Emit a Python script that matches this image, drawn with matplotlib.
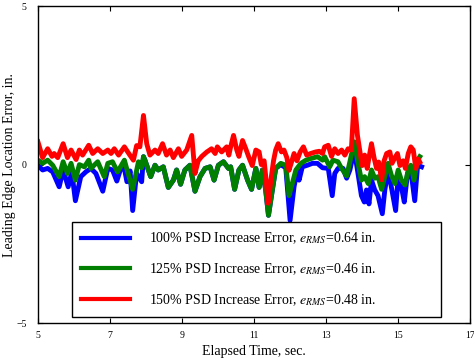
import matplotlib
matplotlib.use("Agg")
import matplotlib.pyplot as plt

plt.rcParams['font.family'] = ['Liberation Serif', 'DejaVu Serif']
plt.rcParams['mathtext.fontset'] = 'stix'

# ---- data ----
t_red = [5.00, 5.13, 5.27, 5.39, 5.45, 5.55, 5.70, 5.82, 5.92, 6.06, 6.15, 6.24, 6.41, 6.52, 6.66,
         6.80, 6.94, 7.03, 7.12, 7.24, 7.40, 7.54, 7.65, 7.74, 7.83, 7.93, 8.02, 8.11, 8.25, 8.34,
         8.46, 8.57, 8.67, 8.76, 8.90, 8.99, 9.13, 9.27, 9.36, 9.45, 9.55, 9.69, 9.82, 9.92, 9.98,
         10.10, 10.24, 10.30, 10.35, 10.43, 10.52, 10.58, 10.68, 10.77, 10.86, 10.95, 11.05, 11.14,
         11.20, 11.28, 11.32, 11.39, 11.46, 11.54, 11.60, 11.67, 11.76, 11.83, 11.91, 11.97, 12.04,
         12.11, 12.19, 12.28, 12.37, 12.46, 12.57, 12.71, 12.81, 12.90, 12.96, 13.06, 13.15, 13.24,
         13.33, 13.43, 13.52, 13.61, 13.70, 13.78, 13.87, 13.94, 14.00, 14.07, 14.14, 14.19, 14.26,
         14.33, 14.40, 14.46, 14.54, 14.61, 14.68, 14.77, 14.83, 14.91, 14.98, 15.05, 15.14, 15.20,
         15.28, 15.35, 15.42, 15.49, 15.56, 15.60]
y_red = [0.72, 0.22, 0.50, 0.26, 0.35, 0.22, 0.66, 0.22, 0.46, 0.16, 0.46, 0.30, 0.61, 0.35, 0.50,
         0.35, 0.46, 0.35, 0.50, 0.30, 0.56, 0.32, 0.14, 0.60, 0.56, 1.55, 0.66, 0.30, 0.46, 0.35,
         0.66, 0.30, 0.46, 0.22, 0.50, 0.26, 0.46, 0.92, -0.28, 0.12, 0.26, 0.40, 0.50, 0.35, 0.56,
         0.40, 0.56, 0.30, 0.56, 0.92, 0.46, 0.26, 0.76, 0.50, 0.22, -0.03, 0.46, 0.40, 0.00, 0.12,
         -0.33, -1.22, -0.55, 0.12, 0.46, 0.66, 0.40, 0.46, 0.22, -0.18, 0.08, 0.35, 0.12, 0.40,
         0.56, 0.30, 0.35, 0.40, 0.42, 0.35, 0.56, 0.61, 0.26, 0.50, 0.35, 0.46, 0.30, 0.50, 0.46,
         2.08, 0.92, 0.40, -0.03, 0.30, -0.12, 0.22, 0.66, 0.22, -0.12, 0.08, -0.48, 0.12, 0.35,
         0.40, 0.04, 0.22, 0.35, -0.03, 0.12, -0.12, 0.35, 0.56, 0.46, -0.12, 0.17, 0.08]

t_green = [5.00, 5.13, 5.27, 5.41, 5.59, 5.70, 5.82, 5.92, 6.04, 6.15, 6.29, 6.41, 6.47, 6.66, 6.84,
           6.94, 7.07, 7.21, 7.40, 7.49, 7.63, 7.79, 7.88, 7.93, 7.97, 8.13, 8.25, 8.34, 8.48, 8.62,
           8.76, 8.85, 8.96, 9.08, 9.22, 9.36, 9.50, 9.64, 9.78, 9.89, 10.01, 10.15, 10.29, 10.35,
           10.46, 10.58, 10.68, 10.82, 10.93, 11.05, 11.14, 11.23, 11.32, 11.40, 11.51, 11.60, 11.74,
           11.88, 11.97, 12.06, 12.16, 12.30, 12.44, 12.57, 12.76, 12.90, 12.96, 13.10, 13.19, 13.33,
           13.43, 13.57, 13.66, 13.78, 13.87, 13.98, 14.07, 14.17, 14.26, 14.35, 14.44, 14.54, 14.63,
           14.72, 14.81, 14.91, 15.00, 15.09, 15.19, 15.28, 15.35, 15.44, 15.54, 15.60]
y_green = [0.14, 0.04, 0.14, -0.02, -0.38, 0.09, -0.28, 0.04, -0.49, 0.00, -0.07, 0.14, -0.12, 0.09,
           -0.38, 0.04, 0.09, -0.23, 0.14, -0.23, -0.78, 0.09, -0.10, 0.25, 0.14, -0.38, -0.02, -0.17,
           -0.07, -0.72, -0.49, -0.17, -0.62, -0.17, -0.02, -0.84, -0.38, -0.12, -0.07, -0.49, -0.02,
           0.09, -0.12, -0.07, -0.78, -0.17, -0.02, -0.49, -0.78, -0.12, -0.72, -0.17, -0.78, -1.60,
           -0.78, -0.12, 0.04, -0.02, -0.98, -0.60, -0.17, 0.04, 0.14, 0.19, 0.25, 0.14, 0.25, -0.07,
           0.14, 0.09, -0.12, -0.36, 0.09, 0.72, 0.14, -0.49, -0.38, -0.60, -0.17, -0.43, -0.38, -0.78,
           -0.38, 0.04, -0.33, -0.60, -0.17, -0.49, -0.64, -0.17, -0.02, -0.49, 0.14, 0.25]

t_blue = [5.00, 5.13, 5.27, 5.41, 5.59, 5.70, 5.84, 5.94, 6.04, 6.19, 6.33, 6.47, 6.61, 6.80, 6.94,
          7.07, 7.19, 7.30, 7.40, 7.47, 7.56, 7.63, 7.74, 7.88, 7.93, 7.97, 8.13, 8.25, 8.34, 8.48,
          8.62, 8.76, 8.85, 8.96, 9.08, 9.22, 9.36, 9.50, 9.64, 9.78, 9.89, 10.01, 10.15, 10.29, 10.35,
          10.46, 10.58, 10.68, 10.82, 10.93, 11.05, 11.14, 11.23, 11.32, 11.40, 11.51, 11.60, 11.74,
          11.88, 12.00, 12.11, 12.20, 12.25, 12.34, 12.48, 12.62, 12.76, 12.90, 13.06, 13.17, 13.24,
          13.33, 13.47, 13.57, 13.66, 13.78, 13.87, 13.98, 14.06, 14.12, 14.19, 14.26, 14.35, 14.44,
          14.56, 14.63, 14.72, 14.81, 14.93, 15.00, 15.09, 15.17, 15.26, 15.35, 15.46, 15.54, 15.65]
y_blue = [-0.02, -0.17, -0.12, -0.23, -0.70, -0.17, -0.70, -0.23, -1.14, -0.38, -0.23, -0.12, -0.28,
          -0.84, -0.12, -0.17, -0.52, -0.12, -0.12, -0.54, -0.20, -1.45, -0.28, -0.54, 0.25, 0.14,
          -0.38, -0.02, -0.17, -0.07, -0.72, -0.49, -0.17, -0.62, -0.17, -0.02, -0.84, -0.38, -0.12,
          -0.07, -0.49, -0.02, 0.09, -0.12, -0.07, -0.78, -0.17, -0.02, -0.49, -0.78, -0.12, -0.72,
          -0.17, -0.78, -1.60, -0.78, -0.12, 0.00, -0.10, -1.76, -0.70, -0.17, -0.49, -0.07, -0.02,
          0.04, 0.04, -0.10, -0.12, -0.98, -0.28, -0.12, -0.12, -0.43, -0.17, 0.46, -0.17, -0.98,
          -1.18, -0.80, -1.24, -0.49, -0.80, -0.98, -1.55, -0.80, -0.17, -0.70, -1.45, -0.38, -0.70,
          -1.18, -0.28, -0.17, -1.14, -0.02, -0.07]

labels = ["100% PSD Increase Error, $e_{RMS}$=0.64 in.",
          "125% PSD Increase Error, $e_{RMS}$=0.46 in.",
          "150% PSD Increase Error, $e_{RMS}$=0.48 in."]
colors = ["#0000ff", "#007f00", "#ff0000"]
x_ticks = [5, 7, 9, 11, 13, 15, 17]
y_ticks = [-5, 0, 5]

fig = plt.figure(figsize=(4.74, 3.59), dpi=100)
ax = fig.add_axes([0.080, 0.100, 0.912, 0.883])

for t, y, c, lab in zip([t_blue, t_green, t_red], [y_blue, y_green, y_red], colors, labels):
    ax.plot(t, y, color=c, lw=3.5, label=lab, solid_joinstyle='round')

ax.set_xlim(5, 17)
ax.set_ylim(-5, 5)
ax.set_xticks(x_ticks)
ax.set_yticks(y_ticks)
ax.tick_params(direction='in', top=True, right=True, length=3.5, width=0.8, labelsize=7)
ax.tick_params(axis='y', pad=8)
ax.tick_params(axis='x', pad=6)
for s in ax.spines.values():
    s.set_linewidth(1.0)

ax.set_xlabel("Elapsed Time, sec.", fontsize=10, labelpad=3)
ax.set_ylabel("Leading Edge Location Error, in.", fontsize=10)
ax.yaxis.set_label_coords(-0.05, 0.5)

leg = ax.legend(loc='lower left', bbox_to_anchor=(0.079, 0.019, 0.854, 0.29), mode='expand',
                borderaxespad=0, fontsize=10, handlelength=3.5, handletextpad=1.4,
                labelspacing=1.1, borderpad=0.65, fancybox=False, framealpha=1, edgecolor='black')
leg.get_frame().set_linewidth(1.0)
for h in leg.get_lines():
    h.set_linewidth(3.0)

fig.savefig("out.png", dpi=100)
